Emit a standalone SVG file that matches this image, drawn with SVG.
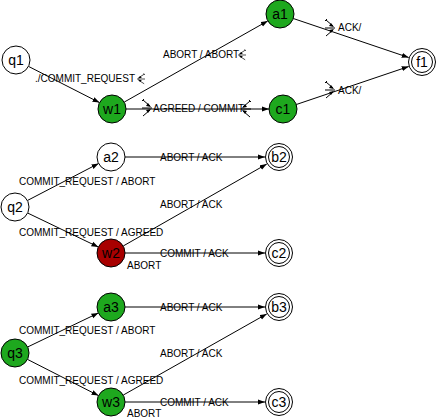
<svg xmlns="http://www.w3.org/2000/svg" width="436" height="418" viewBox="0 0 436 418">
<style>
.n{stroke:#000;stroke-width:1}
.w{fill:#fff}
.g{fill:#1ea81e}
.r{fill:#a80000}
.nt{font-family:"Liberation Sans",Arial,sans-serif;font-size:14px;text-anchor:middle;fill:#000}
.lb{font-family:"Liberation Sans",Arial,sans-serif;font-size:10px;fill:#000}
.e{stroke:#000;stroke-width:1;fill:none;marker-end:url(#ah)}
.gl{stroke:#000;stroke-width:1;fill:none}
</style>
<defs>
<marker id="ah" markerUnits="userSpaceOnUse" markerWidth="8" markerHeight="6" refX="7" refY="3" orient="auto">
<path d="M0,0.5 L7,3 L0,5.5 z" fill="#000"/>
</marker>
<g id="glyph">
<path class="gl" d="M-5,0 H5 M-4,-8 L3,-2 M-4,8 L3,2 M-3,-9 L-5,-7"/>
<path d="M4,-1 L-1,-2 L1,-5 z M4,1 L-1,2 L1,5 z" fill="#000"/>
</g>
</defs>
<g id="connectors">
<path class="e" d="M28.5,66.4 L99.5,102.6"/>
<path class="e" d="M124.2,102.1 L267.8,20.9"/>
<path class="e" d="M126,109 L269,109"/>
<path class="e" d="M293.3,18.5 L408.7,57.5"/>
<path class="e" d="M296.3,104.5 L408.7,66.5"/>
<path class="e" d="M27.4,200.5 L98.6,163.5"/>
<path class="e" d="M27.6,213 L98.4,247"/>
<path class="e" d="M125,157 L265,157"/>
<path class="e" d="M123.2,246 L266.8,164"/>
<path class="e" d="M125,253 L265,253"/>
<path class="e" d="M27.6,347 L98.4,313"/>
<path class="e" d="M27.5,359.4 L98.5,395.6"/>
<path class="e" d="M125,307 L265,307"/>
<path class="e" d="M123.2,395.1 L266.8,313.9"/>
<path class="e" d="M125,402 L265,402"/>
</g>
<g id="labels">
<text class="lb" x="35" y="82">./COMMIT_REQUEST</text>
<use href="#glyph" transform="translate(141,79) scale(-0.8,0.6)"/>
<text class="lb" x="163" y="58">ABORT / ABORT</text>
<use href="#glyph" transform="translate(242,55) scale(-0.8,0.6)"/>
<use href="#glyph" transform="translate(147,108)"/>
<text class="lb" x="153" y="112">AGREED / COMMIT</text>
<use href="#glyph" transform="translate(246,109) scale(-1,1)"/>
<use href="#glyph" transform="translate(330,28)"/>
<text class="lb" x="338" y="31">ACK/</text>
<use href="#glyph" transform="translate(330,90)"/>
<text class="lb" x="338" y="94">ACK/</text>
<text class="lb" x="19" y="185">COMMIT_REQUEST / ABORT</text>
<text class="lb" x="19" y="236">COMMIT_REQUEST / AGREED</text>
<text class="lb" x="160" y="161">ABORT / ACK</text>
<text class="lb" x="160" y="208">ABORT / ACK</text>
<text class="lb" x="160" y="257">COMMIT / ACK</text>
<text class="lb" x="127" y="269">ABORT</text>
<text class="lb" x="19" y="334">COMMIT_REQUEST / ABORT</text>
<text class="lb" x="19" y="384">COMMIT_REQUEST / AGREED</text>
<text class="lb" x="160" y="311">ABORT / ACK</text>
<text class="lb" x="160" y="357">ABORT / ACK</text>
<text class="lb" x="160" y="406">COMMIT / ACK</text>
<text class="lb" x="127" y="417">ABORT</text>
</g>
<g id="q1"><circle class="n w" cx="16" cy="60" r="14"/><text class="nt" x="16" y="65">q1</text></g>
<g id="w1"><circle class="n g" cx="112" cy="109" r="14"/><text class="nt" x="112" y="114">w1</text></g>
<g id="a1"><circle class="n g" cx="280" cy="14" r="14"/><text class="nt" x="280" y="19">a1</text></g>
<g id="c1"><circle class="n g" cx="283" cy="109" r="14"/><text class="nt" x="283" y="114">c1</text></g>
<g id="f1"><circle class="n w" cx="422" cy="62" r="13.5"/><circle class="n w" cx="422" cy="62" r="10.5"/><text class="nt" x="422" y="67">f1</text></g>
<g id="q2"><circle class="n w" cx="15" cy="207" r="14"/><text class="nt" x="15" y="212">q2</text></g>
<g id="a2"><circle class="n w" cx="111" cy="157" r="14"/><text class="nt" x="111" y="162">a2</text></g>
<g id="w2"><circle class="n r" cx="111" cy="253" r="14"/><text class="nt" x="111" y="258">w2</text></g>
<g id="b2"><circle class="n w" cx="279" cy="157" r="13.5"/><circle class="n w" cx="279" cy="157" r="10.5"/><text class="nt" x="279" y="162">b2</text></g>
<g id="c2"><circle class="n w" cx="279" cy="253" r="13.5"/><circle class="n w" cx="279" cy="253" r="10.5"/><text class="nt" x="279" y="258">c2</text></g>
<g id="q3"><circle class="n g" cx="15" cy="353" r="14"/><text class="nt" x="15" y="358">q3</text></g>
<g id="a3"><circle class="n g" cx="111" cy="307" r="14"/><text class="nt" x="111" y="312">a3</text></g>
<g id="w3"><circle class="n g" cx="111" cy="402" r="14"/><text class="nt" x="111" y="407">w3</text></g>
<g id="b3"><circle class="n w" cx="279" cy="307" r="13.5"/><circle class="n w" cx="279" cy="307" r="10.5"/><text class="nt" x="279" y="312">b3</text></g>
<g id="c3"><circle class="n w" cx="279" cy="402" r="13.5"/><circle class="n w" cx="279" cy="402" r="10.5"/><text class="nt" x="279" y="407">c3</text></g>
</svg>
